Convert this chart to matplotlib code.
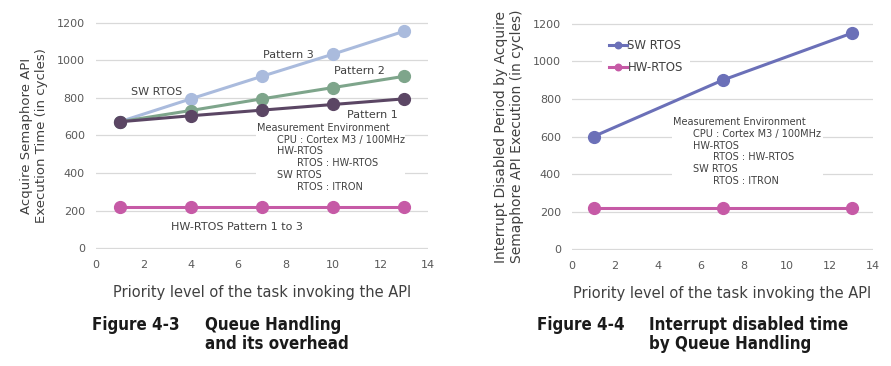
import matplotlib
matplotlib.use("Agg")
import matplotlib.pyplot as plt
from matplotlib.patches import Rectangle

# left chart: acquire semaphore API execution time
prio_left = [1, 4, 7, 10, 13]
pattern3 = [673, 795, 915, 1033, 1155]
pattern2 = [673, 733, 795, 855, 915]
pattern1 = [673, 705, 735, 765, 795]
hw_left = [222, 222, 222, 222, 222]

# right chart: interrupt disabled period
prio_right = [1, 7, 13]
sw_right = [600, 900, 1150]
hw_right = [222, 222, 222]

env_lines = ["Measurement Environment", "CPU : Cortex M3 / 100MHz", "HW-RTOS",
             "RTOS : HW-RTOS", "SW RTOS", "RTOS : ITRON"]
env_indent = [0, 1, 1, 2, 1, 2]

C_P3 = "#aabbdd"
C_P2 = "#7ea58b"
C_P1 = "#5b4664"
C_HW = "#c65aa6"
C_SW = "#6b70b8"
TXT = "#404040"
TICK = "#595959"


def style_axis(ax):
    ax.set_xlim(0, 14)
    ax.set_ylim(-4, 1204)
    ax.set_xticks(range(0, 15, 2))
    ax.set_yticks(range(0, 1201, 200))
    ax.grid(axis="y", color="#d9d9d9", linewidth=0.9)
    ax.set_axisbelow(True)
    for s in ax.spines.values():
        s.set_visible(False)
    ax.tick_params(length=0, labelsize=8, colors=TICK, pad=8)


def env_block(ax, x0, dx, ys, box):
    ax.add_patch(Rectangle(box[0], box[1], box[2], facecolor="white", edgecolor="none", zorder=1))
    for line, ind, y in zip(env_lines, env_indent, ys):
        ax.text(x0 + ind * dx, y, line, fontsize=7, color=TXT, va="center", ha="left", zorder=2)


fig = plt.figure(figsize=(8.91, 3.66), dpi=100)

ax1 = fig.add_axes([0.1077, 0.3197, 0.3726, 0.6202])
style_axis(ax1)
kw = dict(marker="o", markersize=8.5, linewidth=2.2, zorder=3)
ax1.plot(prio_left, pattern3, color=C_P3, **kw)
ax1.plot(prio_left, pattern2, color=C_P2, **kw)
ax1.plot(prio_left, pattern1, color=C_P1, **kw)
ax1.plot(prio_left, hw_left, color=C_HW, **kw)
ax1.text(2.57, 830, "SW RTOS", fontsize=8, color=TXT, ha="center", va="center")
ax1.text(8.1, 1031, "Pattern 3", fontsize=8, color=TXT, ha="center", va="center")
ax1.text(11.09, 941, "Pattern 2", fontsize=8, color=TXT, ha="center", va="center")
ax1.text(11.64, 708, "Pattern 1", fontsize=8, color=TXT, ha="center", va="center")
ax1.text(5.95, 111, "HW-RTOS Pattern 1 to 3", fontsize=8, color=TXT, ha="center", va="center")
env_block(ax1, 6.79, 0.845, [640, 576, 518, 455, 391, 328], ((6.75, 300), 6.3, 362))
ax1.set_ylabel("Acquire Semaphore API\nExecution Time (in cycles)", fontsize=9.5, color=TXT, labelpad=6)
ax1.set_xlabel("Priority level of the task invoking the API", fontsize=10.5, color=TXT, labelpad=11)

ax2 = fig.add_axes([0.642, 0.317, 0.338, 0.620])
style_axis(ax2)
ax2.plot(prio_right, sw_right, color=C_SW, label="SW RTOS", **kw)
ax2.plot(prio_right, hw_right, color=C_HW, label="HW-RTOS", **kw)
env_block(ax2, 4.70, 0.93, [676, 613, 549, 491, 428, 364], ((4.65, 335), 7.0, 370))
leg = ax2.legend(loc="upper left", bbox_to_anchor=(0.08, 0.985), fontsize=8.5, frameon=True,
                 markerscale=0.55, handlelength=1.5, handletextpad=0.05, labelspacing=0.7,
                 borderpad=0.6)
leg.get_frame().set_edgecolor("none")
leg.get_frame().set_facecolor("white")
leg.get_frame().set_alpha(1)
for t in leg.get_texts():
    t.set_color(TXT)
ax2.set_ylabel("Interrupt Disabled Period by Acquire\nSemaphore API Execution (in cycles)",
               fontsize=10, color=TXT, labelpad=6)
ax2.set_xlabel("Priority level of the task invoking the API", fontsize=10.5, color=TXT, labelpad=11)

cap = dict(fontsize=12.2, fontweight="bold", fontstretch="condensed", color="#1a1a1a",
           va="center", ha="left", family="DejaVu Sans")
fig.text(92 / 891, 1 - 325 / 366, "Figure 4-3", **cap)
fig.text(205 / 891, 1 - 325 / 366, "Queue Handling", **cap)
fig.text(205 / 891, 1 - 344 / 366, "and its overhead", **cap)
fig.text(537 / 891, 1 - 325 / 366, "Figure 4-4", **cap)
fig.text(649 / 891, 1 - 325 / 366, "Interrupt disabled time", **cap)
fig.text(649 / 891, 1 - 344 / 366, "by Queue Handling", **cap)

fig.savefig("out.png", dpi=100)
